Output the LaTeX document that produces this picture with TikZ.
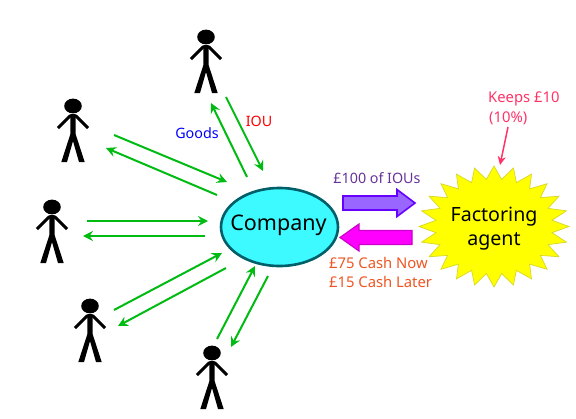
\documentclass[tikz,border=0pt]{standalone}
\usepackage{fontspec}
\setmainfont{Noto Sans}
\usetikzlibrary{arrows.meta,shapes.geometric}
\definecolor{flow}{HTML}{00BB11}
\definecolor{pinkc}{HTML}{FF3366}
\definecolor{orangec}{HTML}{EE5522}
\definecolor{purplec}{HTML}{663399}
\definecolor{tealc}{RGB}{0,95,105}
\definecolor{cyanc}{RGB}{60,250,255}
\definecolor{stare}{RGB}{215,215,40}
\definecolor{starf}{RGB}{255,255,0}
\definecolor{pfill}{RGB}{153,102,255}
\definecolor{pedge}{RGB}{102,0,255}
\definecolor{mfill}{RGB}{255,0,255}
\definecolor{medge}{RGB}{204,0,204}
\tikzset{
  flowarrow/.style={draw=flow,line width=2pt,-{Stealth[length=10pt,width=10pt,inset=3.5pt]}},
  lbl/.style={inner sep=0pt,font=\fontsize{14.3}{17}\selectfont},
  lbll/.style={inner sep=0pt,anchor=west,font=\fontsize{14.8}{17}\selectfont},
  person/.pic={
    \fill (0,0) circle[x radius=8.8pt,y radius=7.4pt];
    \fill (-2.6,8) -- (2.6,8) -- (2.6,28) -- (11.7,56) -- (6,56) -- (0,35) -- (-6,56) -- (-11.7,56) -- (-2.6,28) -- cycle;
    \draw[line width=3pt] (-15,22) -- (-3,10) -- (3,10) -- (15,22);
  }
}
\begin{document}
\begin{tikzpicture}[x=1pt,y=-1pt]
\useasboundingbox (0,0) rectangle (576,418);
% people
\pic at (206,37) {person};
\pic at (73,106) {person};
\pic at (52,207) {person};
\pic at (90,306) {person};
\pic at (212,353) {person};
% company
\node[draw=tealc,line width=2.6pt,fill=cyanc,ellipse,minimum width=117pt,minimum height=78pt,inner sep=0pt] (company) at (279.5,227) {};
\node[inner sep=0pt,font=\fontsize{21.5}{26}\selectfont] (companytext) at (278.5,225) {Company};
% star
\fill[starf,draw=stare,line width=0.7pt]
  plot[samples at={0,...,47}] ({494+(mod(\x,2)==0?75:58.5)*cos(\x*7.5)},{226.5+(mod(\x,2)==0?60.5:47.5)*sin(\x*7.5)}) -- cycle;
\node[inner sep=0pt,align=center,font=\fontsize{19.6}{24}\selectfont] (agent) at (494,229) {Factoring\\agent};
% green arrows
\foreach \ax/\ay/\bx/\by [count=\i] in {226/97/263/171, 247/177/211/103, 114/135/227/182, 217/195/106/148, 87/221/208/221, 205/236/83/236, 114/310/222/253, 226/268/118/326, 217/339/255/266, 268/276/231/347}{
  \coordinate (s\i) at (\ax,\ay);
  \coordinate (e\i) at (\bx,\by);
  \draw[flowarrow] (s\i) -- (e\i);
}
% block arrows
\filldraw[fill=pfill,draw=pedge,line width=1.6pt,line join=miter]
  (343,196) -- (397,196) -- (397,189.5) -- (415,203) -- (397,216.5) -- (397,210) -- (343,210) -- cycle;
\filldraw[fill=mfill,draw=medge,line width=1.2pt,line join=miter]
  (412,230.5) -- (359,230.5) -- (359,224) -- (340,237.5) -- (359,251) -- (359,244.5) -- (412,244.5) -- cycle;
% pink arrow
\coordinate (ps) at (508,127);
\coordinate (pe) at (500,165);
\draw[draw=pinkc,line width=1.5pt,-{Stealth[length=8.5pt,width=8pt,inset=2.5pt]}] (ps) -- (pe);
% labels
\node[lbl,text=blue] (goods) at (197,133) {Goods};
\node[lbl,text=red] (iou) at (259,121) {IOU};
\node[lbl,text=purplec] (ious) at (377,178) {£100 of IOUs};
\node[lbll,text=orangec] (cashn) at (329,263) {£75 Cash Now};
\node[lbll,text=orangec] (cashl) at (329,282) {£15 Cash Later};
\node[lbll,text=pinkc] (keeps) at (488,99) {Keeps £10};
\node[lbll,text=pinkc] (pct) at (489,118) {(10\%)};
\end{tikzpicture}
\end{document}
